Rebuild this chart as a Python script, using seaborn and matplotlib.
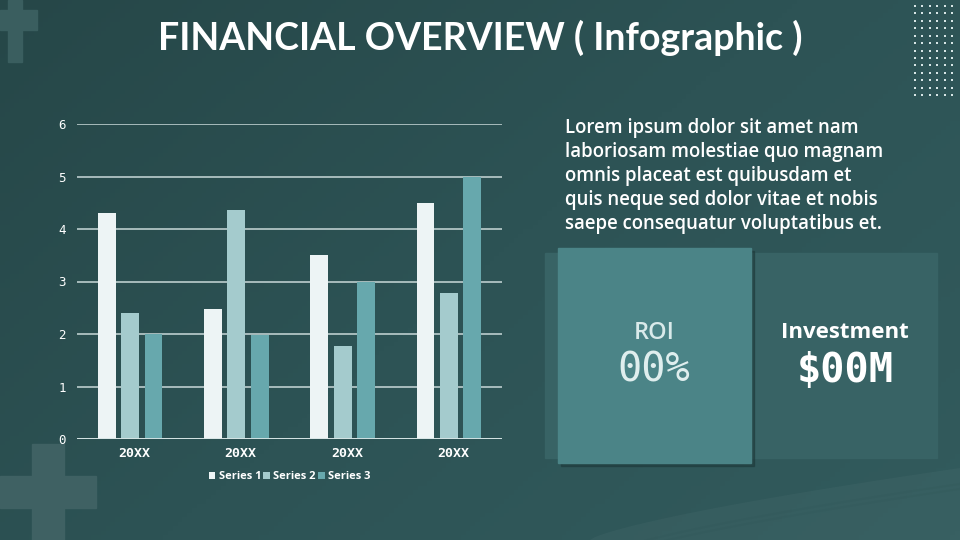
import matplotlib

matplotlib.use("Agg")

import matplotlib.pyplot as plt
import numpy as np
import pandas as pd
import seaborn as sns
from matplotlib.colors import LinearSegmentedColormap
from matplotlib.patches import Rectangle, Polygon

# chart data
groups = ["20XX", "20XX", "20XX", "20XX"]
series_names = ["Series 1", "Series 2", "Series 3"]
series_1 = [4.3, 2.47, 3.5, 4.5]
series_2 = [2.4, 4.37, 1.78, 2.78]
series_3 = [2.0, 1.98, 3.0, 5.0]
series_colors = ["#edf4f5", "#a4cbcd", "#67a8ad"]
y_ticks = [0, 1, 2, 3, 4, 5, 6]

title = "FINANCIAL OVERVIEW ( Infographic )"
body = ("Lorem ipsum dolor sit amet nam\n"
        "laboriosam molestiae quo magnam\n"
        "omnis placeat est quibusdam et\n"
        "quis neque sed dolor vitae et nobis\n"
        "saepe consequatur voluptatibus et.")
kpi_labels = ["ROI", "Investment"]
kpi_values = ["00%", "$00M"]

W, H = 960, 540
SANS = ["Open Sans", "DejaVu Sans"]

sns.set_theme(style="white")
plt.rcParams["font.family"] = ["Lato", "DejaVu Sans"]

fig = plt.figure(figsize=(9.6, 5.4), dpi=100)

# background gradient + decorations in pixel coordinates
bg = fig.add_axes([0, 0, 1, 1])
bg.set_xlim(0, W)
bg.set_ylim(H, 0)
bg.axis("off")
cmap = LinearSegmentedColormap.from_list("bg", ["#264748", "#2d5355", "#325b5d"])
gx, gy = np.meshgrid(np.linspace(0, 1, 200), np.linspace(0, 1, 120))
bg.imshow(gx * 0.6 + gy * 0.4, cmap=cmap, extent=[0, W, H, 0], aspect="auto", zorder=0)

cross_col = "#3a5e5f"
bg.add_patch(Rectangle((8, 0), 14, 62, color=cross_col, zorder=1))
bg.add_patch(Rectangle((0, 10), 37, 20, color=cross_col, zorder=1))
bg.add_patch(Rectangle((32, 444), 32, 96, color="#3f6163", zorder=1))
bg.add_patch(Rectangle((0, 476), 96, 32, color="#3f6163", zorder=1))

# faint swoosh bottom-right
sx = np.linspace(590, 960, 80)
t = (sx - 590) / 370
curve = 540 - 72 * t ** 0.75
bg.add_patch(Polygon(np.r_[np.c_[sx, curve], [[960, 540], [590, 540]]],
                     closed=True, color="#ffffff", alpha=0.03, lw=0, zorder=1))
for off in (13, 18):
    bg.plot(sx + 20, curve + off, color="#1f3d3e", alpha=0.06, lw=1.5, zorder=1)

# dot grid top-right
dx, dy = np.meshgrid(np.linspace(915, 952, 6), np.linspace(6, 95, 13))
bg.scatter(dx.ravel(), dy.ravel(), s=1.5, color="#d8e6e6", marker="s", lw=0, zorder=2)

bg.text(480, 38, title, color="white", fontsize=27, fontweight="bold",
        ha="center", va="center", zorder=3)

bg.text(565, 176, body, color="white", fontsize=13.4, fontweight="semibold",
        family=SANS, ha="left", va="center", linespacing=1.28, zorder=3)

# KPI boxes
bg.add_patch(Rectangle((545, 253), 392, 205, color="#386365", zorder=2))
bg.add_patch(Rectangle((561, 251), 193, 215, color="#1e3a3b", alpha=0.6, zorder=2))
bg.add_patch(Rectangle((558, 248), 193, 215, color="#4b8487", zorder=3))
bg.text(654, 333, kpi_labels[0], color="#d9eaea", fontsize=17, fontweight="semibold",
        family=SANS, ha="center", va="center", zorder=4)
bg.text(654, 370, kpi_values[0], color="#dfeeee", fontsize=29,
        family="DejaVu Sans Mono", ha="center", va="center", zorder=4)
bg.text(845, 333, kpi_labels[1], color="white", fontsize=16, fontweight="bold",
        family=SANS, ha="center", va="center", zorder=4)
bg.text(845, 370, kpi_values[1], color="white", fontsize=29, fontweight="bold",
        family="DejaVu Sans Mono", ha="center", va="center", zorder=4)

# bar chart
df = pd.DataFrame({
    "group": np.tile(np.arange(len(groups)), len(series_names)),
    "series": np.repeat(series_names, len(groups)),
    "value": series_1 + series_2 + series_3,
})

ax = fig.add_axes([77 / W, (H - 439) / H, 425 / W, 315 / H])
ax.patch.set_alpha(0)
sns.barplot(data=df, x="group", y="value", hue="series", palette=series_colors,
            width=0.66, gap=0.23, saturation=1, linewidth=0, ax=ax, zorder=3)
ax.set_ylim(0, 6)
ax.set_xlim(-0.5, 3.5)
ax.set_yticks(y_ticks)
ax.yaxis.grid(True, color="#c9d9d9", linewidth=1.1, zorder=0)
ax.set_axisbelow(True)
for s in ax.spines.values():
    s.set_visible(False)
ax.set_xlabel("")
ax.set_ylabel("")
ax.set_xticks(np.arange(len(groups)) + 0.04)
ax.set_xticklabels(groups, family="DejaVu Sans Mono", fontweight="bold",
                   fontsize=9.5, color="white")
ax.tick_params(axis="y", labelsize=9, labelcolor="white", length=0, pad=8)
ax.tick_params(axis="x", length=0, pad=6)
for lab in ax.get_yticklabels():
    lab.set_family("DejaVu Sans Mono")
ax.axhline(0, color="#d8e6e6", linewidth=1.3, zorder=4)

handles, labels = ax.get_legend_handles_labels()
ax.legend(handles, labels, loc="center", bbox_to_anchor=(0.5, -0.12), ncol=3,
          frameon=False, handlelength=0.6, handleheight=0.6,
          handletextpad=0.3, columnspacing=0.2, labelcolor="white",
          prop={"family": SANS, "size": 8, "weight": "bold"})

fig.savefig("out.png", dpi=100)
